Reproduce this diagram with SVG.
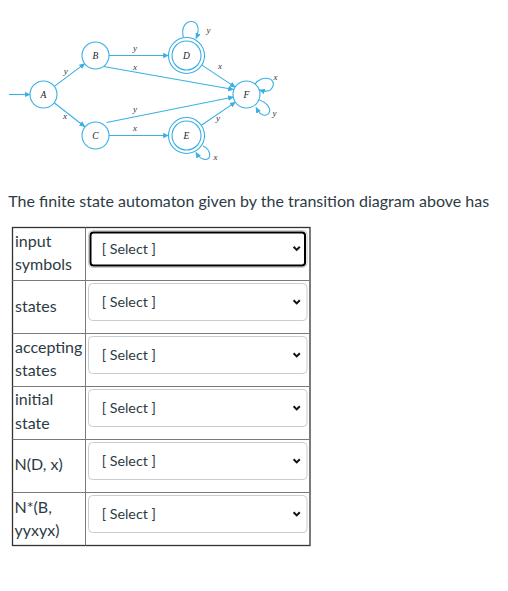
<svg xmlns="http://www.w3.org/2000/svg" width="508" height="591" viewBox="0 0 508 591">
<style>
.st{fill:#fff;stroke:#3ab0e2;stroke-width:1.1}
.ed{fill:none;stroke:#3ab0e2;stroke-width:1.1}
.nl{font-family:"Liberation Serif",serif;font-style:italic;font-size:9.5px;fill:#222;text-anchor:middle}
.el{font-family:"Liberation Serif",serif;font-style:italic;font-size:9px;fill:#333;text-anchor:middle}
.tx{font-family:Lato,"Liberation Sans",sans-serif;fill:#2d3b45}
.lb{font-size:16px}
.sel{fill:#fff;stroke:#c7cdd1;stroke-width:1}
.stx{font-family:Lato,"Liberation Sans",sans-serif;font-size:14.3px;fill:#2d3b45}
.chev{fill:none;stroke:#111;stroke-width:2}
.grid{stroke:#7a7a7a;stroke-width:1}
</style>
<defs>
<marker id="ah" viewBox="0 0 10 10" refX="9" refY="5" markerWidth="6" markerHeight="6" markerUnits="userSpaceOnUse" orient="auto">
<path d="M0,0.5 L10,5 L0,9.5 Z" fill="#3ab0e2"/>
</marker>
</defs>
<rect width="508" height="591" fill="#fff"/>

<g id="connectors">
<line class="ed" x1="9" y1="94.5" x2="30" y2="94.5" marker-end="url(#ah)"/>
<line class="ed" x1="54.3" y1="86.4" x2="84.7" y2="63.6" marker-end="url(#ah)"/>
<line class="ed" x1="54.2" y1="102.8" x2="84.8" y2="126.7" marker-end="url(#ah)"/>
<line class="ed" x1="109" y1="55.5" x2="168.5" y2="55.5" marker-end="url(#ah)"/>
<line class="ed" x1="103.5" y1="66.5" x2="233.5" y2="89.5" marker-end="url(#ah)"/>
<line class="ed" x1="106.5" y1="122.5" x2="233.5" y2="97" marker-end="url(#ah)"/>
<line class="ed" x1="109" y1="135.5" x2="168.5" y2="135.5" marker-end="url(#ah)"/>
<line class="ed" x1="201.5" y1="64.9" x2="235.2" y2="87.1" marker-end="url(#ah)"/>
<line class="ed" x1="201.4" y1="125.3" x2="235.4" y2="102.1" marker-end="url(#ah)"/>
<path class="ed" d="M183.4,37.3 C178,16 206,16 196,38.5" marker-end="url(#ah)"/>
<path class="ed" d="M255,84 C262,74 278,78 272,88 C270,92 266,92 259.5,90" marker-end="url(#ah)"/>
<path class="ed" d="M259.5,100 C268,103 274,112 266,115 C262,116.5 259,113 256,107.5" marker-end="url(#ah)"/>
<path class="ed" d="M203,146 C212,150 212,162 203,159 C200,158 198,156 196,152.5" marker-end="url(#ah)"/>
<text class="el" x="65.7" y="74">y</text>
<text class="el" x="65" y="119">x</text>
<text class="el" x="135" y="51">y</text>
<text class="el" x="135" y="69.5">x</text>
<text class="el" x="135" y="112">y</text>
<text class="el" x="135" y="131">x</text>
<text class="el" x="220" y="69">x</text>
<text class="el" x="218" y="121">y</text>
<text class="el" x="208.5" y="33">y</text>
<text class="el" x="275.5" y="80">x</text>
<text class="el" x="274.5" y="115.5">y</text>
<text class="el" x="215.5" y="159.5">x</text>
</g>

<g id="A"><circle class="st" cx="43.5" cy="94.5" r="13.5"/><text class="nl" x="43.5" y="97.8">A</text></g>
<g id="B"><circle class="st" cx="95.5" cy="55.5" r="13.5"/><text class="nl" x="95.5" y="58.8">B</text></g>
<g id="C"><circle class="st" cx="95.5" cy="135.5" r="13.5"/><text class="nl" x="95.5" y="138.8">C</text></g>
<g id="D"><circle class="st" cx="186.5" cy="55.5" r="18"/><circle class="st" cx="186.5" cy="55.5" r="14.5"/><text class="nl" x="186.5" y="58.8">D</text></g>
<g id="E"><circle class="st" cx="186.5" cy="135.5" r="18"/><circle class="st" cx="186.5" cy="135.5" r="14.5"/><text class="nl" x="186.5" y="138.8">E</text></g>
<g id="F"><circle class="st" cx="246.5" cy="94.5" r="13.5"/><text class="nl" x="246.5" y="97.8">F</text></g>

<text class="tx" x="8.3" y="206.7" font-size="16px">The finite state automaton given by the transition diagram above has</text>

<g id="table">
<rect x="12.5" y="227.5" width="297.5" height="318" fill="none" stroke="#333" stroke-width="1.3"/>
<line class="grid" x1="85.5" y1="227.5" x2="85.5" y2="545.5"/>
<line class="grid" x1="12.5" y1="280.5" x2="310" y2="280.5"/>
<line class="grid" x1="12.5" y1="333.5" x2="310" y2="333.5"/>
<line class="grid" x1="12.5" y1="386.5" x2="310" y2="386.5"/>
<line class="grid" x1="12.5" y1="439.5" x2="310" y2="439.5"/>
<line class="grid" x1="12.5" y1="492.5" x2="310" y2="492.5"/>

<text class="tx lb" x="15" y="246.7">input</text>
<text class="tx lb" x="15" y="270">symbols</text>
<text class="tx lb" x="15" y="311.7">states</text>
<text class="tx lb" x="15" y="352.7">accepting</text>
<text class="tx lb" x="15" y="376">states</text>
<text class="tx lb" x="15" y="405">initial</text>
<text class="tx lb" x="15" y="429.3">state</text>
<text class="tx lb" x="14.5" y="470">N(D, x)</text>
<text class="tx lb" x="14.5" y="513.3">N*(B,</text>
<text class="tx lb" x="14.5" y="536">yyxyx)</text>

<rect class="sel" x="88.5" y="230.5" width="218.5" height="37" rx="4"/>
<rect x="90.5" y="232.5" width="214.5" height="33" rx="3" fill="#fff" stroke="#000" stroke-width="2"/>
<text class="stx" x="101.7" y="253.5">[ Select ]</text>
<path class="chev" d="M293.6,246.8 L296.7,249.9 L299.8,246.8"/>

<rect class="sel" x="88.5" y="283.5" width="218.5" height="37" rx="4"/>
<text class="stx" x="101.7" y="306.8">[ Select ]</text>
<path class="chev" d="M293.6,300.3 L296.7,303.4 L299.8,300.3"/>

<rect class="sel" x="88.5" y="336.5" width="218.5" height="37" rx="4"/>
<text class="stx" x="101.7" y="359.8">[ Select ]</text>
<path class="chev" d="M293.6,353.3 L296.7,356.4 L299.8,353.3"/>

<rect class="sel" x="88.5" y="389.5" width="218.5" height="37" rx="4"/>
<text class="stx" x="101.7" y="412.8">[ Select ]</text>
<path class="chev" d="M293.6,406.3 L296.7,409.4 L299.8,406.3"/>

<rect class="sel" x="88.5" y="442.5" width="218.5" height="37" rx="4"/>
<text class="stx" x="101.7" y="465.8">[ Select ]</text>
<path class="chev" d="M293.6,459.3 L296.7,462.4 L299.8,459.3"/>

<rect class="sel" x="88.5" y="495.5" width="218.5" height="37" rx="4"/>
<text class="stx" x="101.7" y="518.8">[ Select ]</text>
<path class="chev" d="M293.6,512.3 L296.7,515.4 L299.8,512.3"/>
</g>
</svg>
